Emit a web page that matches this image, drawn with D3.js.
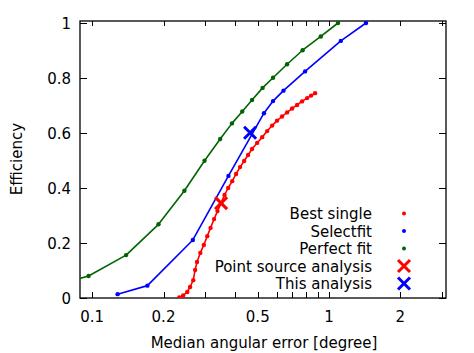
<!DOCTYPE html>
<html>
<head>
<meta charset="utf-8">
<script src="https://cdn.jsdelivr.net/npm/d3@7"></script>
<style>
  body { margin: 0; background: #fff; }
  text { font-family: "DejaVu Sans", sans-serif; fill: #000; }
</style>
</head>
<body>
<svg id="chart"></svg>
<script>
// Best single (red)
var bestX = [0.233, 0.242, 0.252, 0.259, 0.267, 0.272, 0.277, 0.286, 0.296, 0.306, 0.316, 0.327,
    0.338, 0.350, 0.362, 0.375, 0.390, 0.405, 0.421, 0.438, 0.455, 0.473, 0.497, 0.522, 0.548,
    0.575, 0.603, 0.633, 0.665, 0.698, 0.733, 0.769, 0.808, 0.840, 0.873];
var bestY = [0.002, 0.009, 0.022, 0.040, 0.065, 0.102, 0.131, 0.164, 0.193, 0.225, 0.255, 0.287,
    0.316, 0.345, 0.375, 0.400, 0.425, 0.451, 0.476, 0.498, 0.520, 0.542, 0.564, 0.585, 0.607,
    0.627, 0.645, 0.660, 0.675, 0.689, 0.702, 0.715, 0.727, 0.736, 0.745];

// Selectfit (blue)
var selX = [0.128, 0.171, 0.266, 0.376, 0.531, 0.580, 0.642, 0.792, 1.121, 1.432];
var selY = [0.014, 0.045, 0.211, 0.444, 0.672, 0.716, 0.754, 0.824, 0.935, 1.0];

// Perfect fit (green), first point lies left of the frame
var perfX = [0.070, 0.0965, 0.139, 0.1905, 0.245, 0.298, 0.347, 0.389, 0.430, 0.473, 0.524,
    0.580, 0.665, 0.773, 0.923, 1.091];
var perfY = [0.047, 0.080, 0.156, 0.268, 0.390, 0.499, 0.578, 0.635, 0.678, 0.720, 0.764,
    0.801, 0.850, 0.901, 0.951, 1.0];

// single results
var pointSrc = { x: 0.350, y: 0.345 };
var thisAna = { x: 0.464, y: 0.601 };

var xTicks = [0.1, 0.2, 0.5, 1, 2];
var xMinor = [0.3, 0.4, 0.6, 0.7, 0.8, 0.9, 3];
var yTicks = [0, 0.2, 0.4, 0.6, 0.8, 1];

var legendNames = ["Best single", "Selectfit", "Perfect fit", "Point source analysis", "This analysis"];

var red = "#ff0000", blue = "#0000ff", green = "#006400";

var totalWidth = 474, totalHeight = 353;
var margin = { left: 80, right: 446, top: 21, bottom: 298 };
var fs = 15;

var svg = d3.select("#chart")
    .attr("width", totalWidth)
    .attr("height", totalHeight);

var x = d3.scaleLog()
    .domain([0.0888, 3.117])
    .range([margin.left, margin.right]);

var y = d3.scaleLinear()
    .domain([0, 1])
    .range([margin.bottom, 23]);

svg.append("clipPath").attr("id", "clip")
    .append("rect")
    .attr("x", margin.left).attr("y", margin.top)
    .attr("width", margin.right - margin.left).attr("height", margin.bottom - margin.top);

// ticks, inside on all four sides
var ticks = svg.append("g").attr("stroke", "#000").attr("stroke-width", 1);
xTicks.concat(xMinor).forEach(t => {
    var px = Math.round(x(t)) + 0.5;
    ticks.append("line").attr("x1", px).attr("x2", px).attr("y1", margin.bottom).attr("y2", margin.bottom - 6);
    ticks.append("line").attr("x1", px).attr("x2", px).attr("y1", margin.top).attr("y2", margin.top + 5);
});
yTicks.forEach(t => {
    var py = Math.round(y(t)) + 0.5;
    ticks.append("line").attr("x1", margin.left).attr("x2", margin.left + 7).attr("y1", py).attr("y2", py);
    ticks.append("line").attr("x1", margin.right).attr("x2", margin.right - 7).attr("y1", py).attr("y2", py);
});

svg.append("rect")
    .attr("x", margin.left).attr("y", margin.top)
    .attr("width", margin.right - margin.left).attr("height", margin.bottom - margin.top)
    .attr("fill", "none")
    .attr("stroke", "#000")
    .attr("stroke-width", 1.3);

// tick labels
svg.append("g").selectAll("text")
    .data(xTicks).join("text")
    .attr("x", d => x(d))
    .attr("y", 322)
    .attr("text-anchor", "middle")
    .attr("font-size", fs)
    .text(d => d);

svg.append("g").selectAll("text")
    .data(yTicks).join("text")
    .attr("x", 71)
    .attr("y", d => y(d) + 5.5)
    .attr("text-anchor", "end")
    .attr("font-size", fs)
    .text(d => d);

svg.append("text")
    .attr("x", 264).attr("y", 348)
    .attr("text-anchor", "middle")
    .attr("font-size", fs)
    .text("Median angular error [degree]");

svg.append("text")
    .attr("transform", "translate(22,159) rotate(-90)")
    .attr("text-anchor", "middle")
    .attr("font-size", fs)
    .text("Efficiency");

// series
var plot = svg.append("g").attr("clip-path", "url(#clip)");

function drawSeries(xs, ys, color, r) {
    var pts = xs.map((v, i) => ({ x: v, y: ys[i] }));
    var line = d3.line()
        .x(d => x(d.x))
        .y(d => y(d.y));
    plot.append("path")
        .datum(pts)
        .attr("fill", "none")
        .attr("stroke", color)
        .attr("stroke-width", 1.6)
        .attr("stroke-linejoin", "round")
        .attr("d", line);
    plot.append("g").selectAll("circle")
        .data(pts).join("circle")
        .attr("cx", d => x(d.x))
        .attr("cy", d => y(d.y))
        .attr("r", r)
        .attr("fill", color);
}

drawSeries(perfX, perfY, green, 2.2);
drawSeries(selX, selY, blue, 2.2);
drawSeries(bestX, bestY, red, 2.2);

function cross(g, cx, cy, color) {
    var s = 6;
    g.append("path")
        .attr("d", `M${cx - s},${cy - s}L${cx + s},${cy + s}M${cx - s},${cy + s}L${cx + s},${cy - s}`)
        .attr("stroke", color)
        .attr("stroke-width", 3)
        .attr("fill", "none");
}

cross(plot, x(pointSrc.x), y(pointSrc.y), red);
cross(plot, x(thisAna.x), y(thisAna.y), blue);

// legend
var legendColors = [red, blue, green, red, blue];
var leg = svg.append("g");
legendNames.forEach((name, i) => {
    var ly = 213.5 + i * 17.5;
    leg.append("text")
        .attr("x", 372).attr("y", ly + 5.5)
        .attr("text-anchor", "end")
        .attr("font-size", fs)
        .text(name);
    if (i < 3) {
        leg.append("circle")
            .attr("cx", 404).attr("cy", ly)
            .attr("r", 2)
            .attr("fill", legendColors[i]);
    } else {
        cross(leg, 404, ly, legendColors[i]);
    }
});
</script>
</body>
</html>
